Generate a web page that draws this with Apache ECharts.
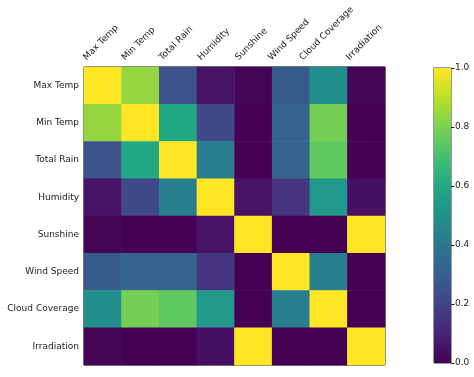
<!DOCTYPE html>
<html>
<head>
<meta charset="utf-8">
<script src="https://cdn.jsdelivr.net/npm/echarts@6/dist/echarts.min.js"></script>
<style>
    html, body { margin: 0; padding: 0; background: #fff; }
    #chart { width: 474px; height: 377px; }
</style>
</head>
<body>
<div id="chart"></div>
<script>
// 变量名
var labels = ['Max Temp', 'Min Temp', 'Total Rain', 'Humidity', 'Sunshine', 'Wind Speed', 'Cloud Coverage', 'Irradiation'];

// 相关系数矩阵（按行）
var rowMaxTemp = [1.00, 0.84, 0.25, 0.05, 0.01, 0.28, 0.49, 0.01];
var rowMinTemp = [0.84, 1.00, 0.60, 0.22, 0.00, 0.32, 0.79, 0.00];
var rowTotalRain = [0.25, 0.60, 1.00, 0.42, 0.00, 0.32, 0.75, 0.00];
var rowHumidity = [0.05, 0.22, 0.42, 1.00, 0.05, 0.15, 0.53, 0.04];
var rowSunshine = [0.01, 0.00, 0.00, 0.05, 1.00, 0.00, 0.00, 1.00];
var rowWindSpeed = [0.28, 0.32, 0.32, 0.15, 0.00, 1.00, 0.42, 0.00];
var rowCloud = [0.49, 0.79, 0.75, 0.53, 0.00, 0.42, 1.00, 0.00];
var rowIrradiation = [0.01, 0.00, 0.00, 0.04, 1.00, 0.00, 0.00, 1.00];

// 色条刻度
var colorbarTicks = [0, 0.2, 0.4, 0.6, 0.8, 1.0];

var rows = [rowMaxTemp, rowMinTemp, rowTotalRain, rowHumidity, rowSunshine, rowWindSpeed, rowCloud, rowIrradiation];
var viridis = ['#440154', '#482475', '#414487', '#355f8d', '#2a788e', '#21918c',
    '#22a884', '#44bf70', '#7ad151', '#bddf26', '#fde725'];

var cells = [];
rows.forEach(function(row, i) {
    row.forEach(function(v, j) {
        cells.push([j, i, v]);
    });
});

var fontSize = 9;
var fontFamily = 'DejaVu Sans';
var textColor = '#1a1a1a';
var textStyle = { color: textColor, fontSize: fontSize, fontFamily: fontFamily };
var tickStyle = { alignWithLabel: true, length: 3.5, lineStyle: { color: '#222' } };

var chart = echarts.init(document.getElementById('chart'));
var option = {
    animation: false,
    grid: [{
        left: 84, top: 67, width: 301, height: 298,
        outerBoundsMode: 'none',
        show: true, borderColor: '#000', borderWidth: 1
    }, {
        left: 434, top: 68, width: 17, height: 295,
        outerBoundsMode: 'none',
        show: true, borderColor: '#000', borderWidth: 0.8
    }],
    visualMap: {
        show: false,
        min: 0,
        max: 1,
        seriesIndex: 0,
        inRange: { color: viridis }
    },
    xAxis: [{
        type: 'category',
        data: labels,
        position: 'top',
        axisLine: { show: false },
        axisTick: tickStyle,
        axisLabel: { show: false }
    }, {
        type: 'category',
        data: labels,
        position: 'bottom',
        axisLine: { show: false },
        axisTick: tickStyle,
        axisLabel: { show: false }
    }, {
        type: 'category',
        gridIndex: 1,
        data: [''],
        show: false
    }],
    yAxis: [{
        type: 'category',
        data: labels,
        inverse: true,
        axisLine: { show: false },
        axisTick: tickStyle,
        axisLabel: Object.assign({ margin: 5 }, textStyle)
    }, {
        type: 'value',
        gridIndex: 1,
        min: 0,
        max: 1,
        interval: 0.2,
        position: 'right',
        axisLine: { show: false },
        splitLine: { show: false },
        axisTick: { show: true, length: 3.5, lineStyle: { color: '#222' } },
        axisLabel: Object.assign({
            margin: 4,
            formatter: function(v) { return colorbarTicks.indexOf(+v.toFixed(1)) > -1 ? v.toFixed(1) : ''; }
        }, textStyle)
    }],
    series: [{
        type: 'heatmap',
        xAxisIndex: 0,
        yAxisIndex: 0,
        data: cells,
        itemStyle: { borderWidth: 0 }
    }, {
        type: 'bar',
        xAxisIndex: 2,
        yAxisIndex: 1,
        data: [1],
        barWidth: '100%',
        silent: true,
        itemStyle: {
            color: {
                type: 'linear', x: 0, y: 1, x2: 0, y2: 0,
                colorStops: viridis.map(function(c, k) {
                    return { offset: k / (viridis.length - 1), color: c };
                })
            }
        }
    }]
};
chart.setOption(option);

// 顶部斜标签：旋转 45°，外框以刻度为中心（同 matplotlib 的 ha=center）
var ctx = document.createElement('canvas').getContext('2d');
ctx.font = fontSize + 'px "' + fontFamily + '"';
var labelBottom = 59.5;
var topLabels = labels.map(function(name, i) {
    var w = ctx.measureText(name).width;
    var tickX = chart.convertToPixel({ xAxisIndex: 0 }, i);
    return {
        type: 'text',
        x: tickX - 2,
        y: labelBottom - 0.3535 * (w + 2),
        rotation: Math.PI / 4,
        silent: true,
        style: {
            text: name,
            fill: textColor,
            font: fontSize + 'px "' + fontFamily + '"',
            align: 'center',
            verticalAlign: 'middle'
        }
    };
});
chart.setOption({ graphic: topLabels });
</script>
</body>
</html>
